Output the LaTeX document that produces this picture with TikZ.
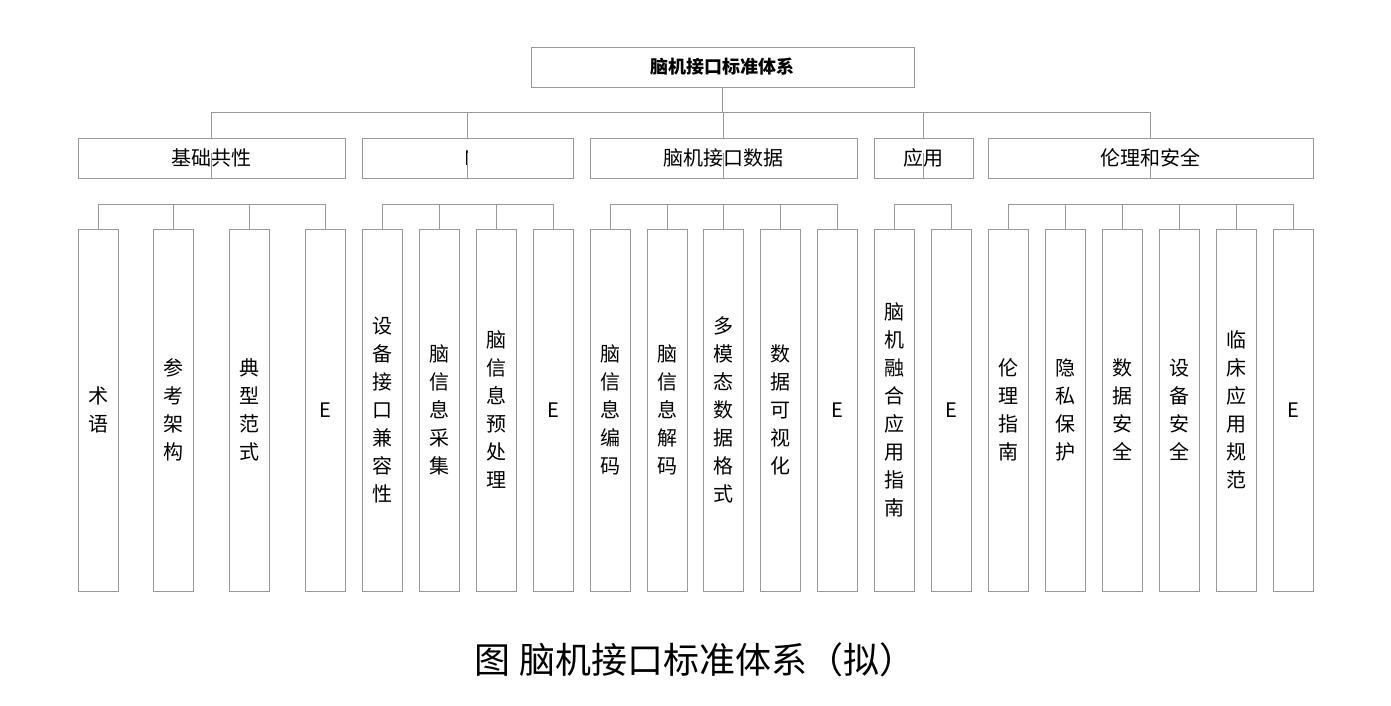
\documentclass[tikz,border=0pt]{standalone}
\usepackage{fontspec}
\newfontfamily\cjk{Noto Sans CJK SC}
\begin{document}
\begin{tikzpicture}[x=1pt,y=-1pt,
  box/.style={draw=gray!80,line width=1pt,inner sep=0pt,font=\cjk},
  lf/.style={box,minimum width=40pt,minimum height=362pt,align=center,font=\cjk\fontsize{20}{28}\selectfont},
  ln/.style={draw=gray!80,line width=1pt}]
\useasboundingbox (0,0) rectangle (1391,705);
\node[box,minimum width=383pt,minimum height=40pt,font=\cjk\bfseries\fontsize{18}{20}\selectfont] (root) at (722.5,67) {脑机接口标准体系};
\foreach \n/\a/\b/\t in {g1/78/345/基础共性,g2/362/573/I/O接口,g3/590/857/脑机接口数据,g4/874/973/应用,g5/988/1313/伦理和安全}{
  \node[box,minimum width=\b-\a,minimum height=40pt,font=\cjk\fontsize{20}{22}\selectfont] (\n) at ({(\a+\b)/2},158) {\t};
  \draw[ln] (\n.north) -- ++(0,-26);
}
\draw[ln] (root.south) -- (722.5,112);
\draw[ln] (g1.north |- 0,112) -- (g5.north |- 0,112);
\foreach \n/\x/\t in {a1/78/术\\语, a2/153/参\\考\\架\\构, a3/229/典\\型\\范\\式, a4/305/E,
  b1/362/设\\备\\接\\口\\兼\\容\\性, b2/419/脑\\信\\息\\采\\集, b3/476/脑\\信\\息\\预\\处\\理, b4/533/E,
  c1/590/脑\\信\\息\\编\\码, c2/647/脑\\信\\息\\解\\码, c3/703/多\\模\\态\\数\\据\\格\\式, c4/760/数\\据\\可\\视\\化, c5/817/E,
  d1/874/脑\\机\\融\\合\\应\\用\\指\\南, d2/931/E,
  e1/988/伦\\理\\指\\南, e2/1045/隐\\私\\保\\护, e3/1102/数\\据\\安\\全, e4/1159/设\\备\\安\\全, e5/1216/临\\床\\应\\用\\规\\范, e6/1273/E}{
  \ifx\t E
    \node[lf] (\n) at (\x+20,410) {};
    \node[rotate=-90,font=\cjk\fontsize{16}{16}\selectfont,text=gray] at (\n) {……};
  \else
    \node[lf] (\n) at (\x+20,410) {\t};
  \fi
  \draw[ln] (\n.north) -- ++(0,-25);
}
\draw[ln] (g1.south) -- ++(0,-26);
\draw[ln] (g2.south) -- ++(0,-26);
\draw[ln] (g3.south) -- ++(0,-26);
\draw[ln] (g4.south) -- ++(0,-26);
\draw[ln] (g5.south) -- ++(0,-26);
\draw[ln] (a1.north |- 0,204) -- (a4.north |- 0,204);
\draw[ln] (b1.north |- 0,204) -- (b4.north |- 0,204);
\draw[ln] (c1.north |- 0,204) -- (c5.north |- 0,204);
\draw[ln] (d1.north |- 0,204) -- (d2.north |- 0,204);
\draw[ln] (e1.north |- 0,204) -- (e6.north |- 0,204);
\node[font=\cjk\fontsize{36}{40}\selectfont] (cap) at (695,660) {图\ 脑机接口标准体系（拟）};
\end{tikzpicture}
\end{document}
